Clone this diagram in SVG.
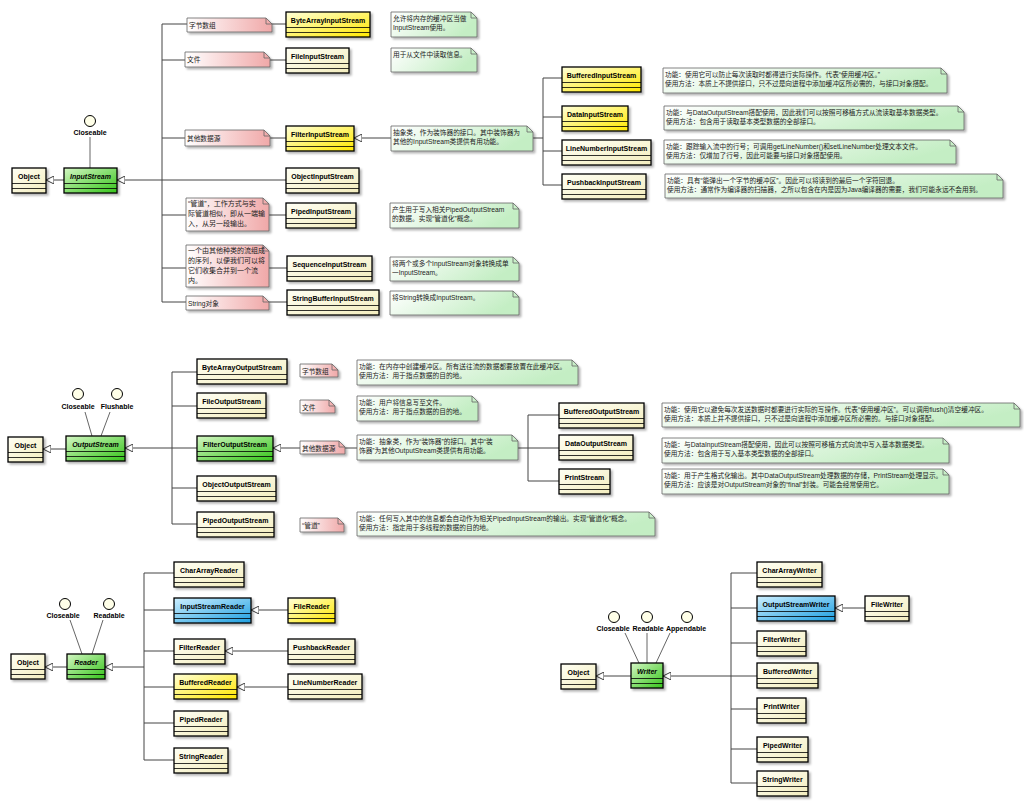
<svg xmlns="http://www.w3.org/2000/svg" width="1024" height="805" viewBox="0 0 1024 805">
<defs>
<linearGradient id="gCream" x1="0" y1="0" x2="1" y2="1"><stop offset="0" stop-color="#FFFFF4"/><stop offset="1" stop-color="#F3EDBE"/></linearGradient>
<linearGradient id="gYellow" x1="0" y1="0" x2="1" y2="1"><stop offset="0" stop-color="#FFFFD8"/><stop offset="1" stop-color="#FFE800"/></linearGradient>
<linearGradient id="gGreen" x1="0" y1="0" x2="1" y2="1"><stop offset="0" stop-color="#D4F7C4"/><stop offset="1" stop-color="#36C41A"/></linearGradient>
<linearGradient id="gBlue" x1="0" y1="0" x2="1" y2="1"><stop offset="0" stop-color="#CDEFFF"/><stop offset="1" stop-color="#1E9FE0"/></linearGradient>
<linearGradient id="gPink" x1="0" y1="0" x2="1" y2="0"><stop offset="0" stop-color="#FFFFFF"/><stop offset="1" stop-color="#F0A8A8"/></linearGradient>
<linearGradient id="gMint" x1="0" y1="0" x2="1" y2="0.3"><stop offset="0" stop-color="#FFFFFF"/><stop offset="1" stop-color="#C4EEC4"/></linearGradient>
<filter id="sh" x="-10%" y="-10%" width="130%" height="150%"><feDropShadow dx="2" dy="2" stdDeviation="0.8" flood-color="#000" flood-opacity="0.3"/></filter>
<marker id="tri" viewBox="0 0 10 10" refX="10" refY="5" markerWidth="8" markerHeight="8" markerUnits="userSpaceOnUse" orient="auto"><path d="M0,0 L10,5 L0,10 z" fill="#fff" stroke="#333" stroke-width="1.2"/></marker>
<style>
.c rect{stroke:#000;stroke-width:1.3;filter:url(#sh)}
.c path{stroke:#000;stroke-width:0.8;fill:none}
.c text{font-family:"Liberation Sans",Arial,sans-serif;font-size:7px;font-weight:bold;text-anchor:middle;fill:#000}
.c text.i{font-style:italic}
.cr{fill:url(#gCream)}.ye{fill:url(#gYellow)}.gr{fill:url(#gGreen)}.bl{fill:url(#gBlue)}
.n path.b{stroke:#666;stroke-width:0.8;filter:url(#sh)}
.n path.f{stroke:#666;stroke-width:0.8;fill:none}
.p path.b{fill:url(#gPink)}
.g path.b{fill:url(#gMint)}
.n text{font-family:"Liberation Sans","Noto Sans CJK SC",sans-serif;font-size:6.7px;fill:#222}
.p text.m{font-size:7px}
.conn path{stroke:#444;stroke-width:1;fill:none}
.conn path.a{marker-end:url(#tri)}
.conn path.if{stroke:#666}
.ifc circle{fill:#FFFFE8;stroke:#000;stroke-width:1}
.ifc text{font-family:"Liberation Sans",Arial,sans-serif;font-size:7px;font-weight:bold;text-anchor:middle;fill:#000}
</style>
</defs>
<rect width="1024" height="805" fill="#fff"/>

<g id="connectors" class="conn">
<!-- top -->
<path class="a" d="M64,180H46"/>
<path class="a" d="M162,180H117"/>
<path d="M162,24V302"/>
<path d="M162,24H286M162,60H286M162,138H286M162,180H286M162,215H286M162,268H287M162,302H287"/>
<path class="a" d="M543,138H354"/>
<path d="M543,78V185M543,78H562M543,117H562M543,151H562M543,185H562"/>
<path class="if" d="M90,137V168"/>
<!-- middle -->
<path class="a" d="M66,449H43"/>
<path class="a" d="M172,448H125"/>
<path d="M172,372V524M172,372H197M172,406H197M172,448H197M172,488H197M172,524H197"/>
<path class="a" d="M528,448H273"/>
<path d="M528,415V481M528,415H559M528,448H559M528,481H559"/>
<path class="if" d="M85,412L92,436M110,412L101,436"/>
<!-- reader -->
<path class="a" d="M67,667H45"/>
<path class="a" d="M144,667H105"/>
<path d="M144,573V760M144,573H174M144,610H174M144,651H174M144,687H174M144,723H174M144,760H174"/>
<path class="a" d="M288,610H251"/>
<path class="a" d="M288,651H225"/>
<path class="a" d="M288,687H237"/>
<path class="if" d="M70,620L82,654M103,620L92,654"/>
<!-- writer -->
<path class="a" d="M631,676H596"/>
<path class="a" d="M731,676H663"/>
<path d="M731,573V783M731,573H757M731,608H757M731,643H757M731,676H757M731,709H757M731,749H757M731,783H757"/>
<path class="a" d="M865,608H835"/>
<path class="if" d="M625,633L639,663M647,633L647,663M670,633L656,663"/>
</g>

<!-- interfaces -->
<g id="if-Closeable-in" class="ifc"><circle cx="90" cy="121" r="5.5"/><text x="90" y="135">Closeable</text></g>
<g id="if-Closeable-out" class="ifc"><circle cx="78" cy="394" r="5.5"/><text x="78" y="409">Closeable</text></g>
<g id="if-Flushable-out" class="ifc"><circle cx="117" cy="394" r="5.5"/><text x="117" y="409">Flushable</text></g>
<g id="if-Closeable-reader" class="ifc"><circle cx="65" cy="604" r="5.5"/><text x="63" y="618">Closeable</text></g>
<g id="if-Readable-reader" class="ifc"><circle cx="109" cy="604" r="5.5"/><text x="109" y="618">Readable</text></g>
<g id="if-Closeable-writer" class="ifc"><circle cx="614" cy="617" r="5.5"/><text x="613" y="631">Closeable</text></g>
<g id="if-Readable-writer" class="ifc"><circle cx="647" cy="617" r="5.5"/><text x="648" y="631">Readable</text></g>
<g id="if-Appendable-writer" class="ifc"><circle cx="687" cy="617" r="5.5"/><text x="686" y="631">Appendable</text></g>

<!-- top classes -->
<g id="Object-1" class="c"><rect class="cr" x="12" y="168" width="34" height="25"/><path d="M12,183.5h34M12,188.5h34"/><text x="29" y="179">Object</text></g>
<g id="InputStream" class="c"><rect class="gr" x="64" y="168" width="53" height="25"/><path d="M64,183.5h53M64,188.5h53"/><text class="i" x="90.5" y="179">InputStream</text></g>
<g id="ByteArrayInputStream" class="c"><rect class="ye" x="286" y="12" width="84" height="25"/><path d="M286,27.5h84M286,32.5h84"/><text x="328" y="23">ByteArrayInputStream</text></g>
<g id="FileInputStream" class="c"><rect class="cr" x="286" y="48" width="63" height="25"/><path d="M286,63.5h63M286,68.5h63"/><text x="317.5" y="59">FileInputStream</text></g>
<g id="FilterInputStream" class="c"><rect class="ye" x="286" y="126" width="68" height="25"/><path d="M286,141.5h68M286,146.5h68"/><text x="320" y="137">FilterInputStream</text></g>
<g id="ObjectInputStream" class="c"><rect class="cr" x="286" y="168" width="73" height="25"/><path d="M286,183.5h73M286,188.5h73"/><text x="322.5" y="179">ObjectInputStream</text></g>
<g id="PipedInputStream" class="c"><rect class="cr" x="286" y="203" width="70" height="25"/><path d="M286,218.5h70M286,223.5h70"/><text x="321" y="214">PipedInputStream</text></g>
<g id="SequenceInputStream" class="c"><rect class="cr" x="287" y="256" width="85" height="25"/><path d="M287,271.5h85M287,276.5h85"/><text x="329.5" y="267">SequenceInputStream</text></g>
<g id="StringBufferInputStream" class="c"><rect class="cr" x="287" y="290" width="92" height="25"/><path d="M287,305.5h92M287,310.5h92"/><text x="333" y="301">StringBufferInputStream</text></g>
<g id="BufferedInputStream" class="c"><rect class="ye" x="562" y="67" width="79" height="25"/><path d="M562,82.5h79M562,87.5h79"/><text x="601.5" y="78">BufferedInputStream</text></g>
<g id="DataInputStream" class="c"><rect class="ye" x="562" y="106" width="66" height="25"/><path d="M562,121.5h66M562,126.5h66"/><text x="595" y="117">DataInputStream</text></g>
<g id="LineNumberInputStream" class="c"><rect class="cr" x="562" y="140" width="89" height="25"/><path d="M562,155.5h89M562,160.5h89"/><text x="606.5" y="151">LineNumberInputStream</text></g>
<g id="PushbackInputStream" class="c"><rect class="cr" x="562" y="174" width="84" height="25"/><path d="M562,189.5h84M562,194.5h84"/><text x="604" y="185">PushbackInputStream</text></g>

<!-- top notes -->
<g id="note-in-bytes" class="n p"><path class="b" d="M187,18h79l6,6v8h-85z"/><path class="f" d="M266,18v6h6"/><text x="189" y="28">字节数组</text></g>
<g id="note-in-file" class="n p"><path class="b" d="M185,52h79l6,6v9h-85z"/><path class="f" d="M264,52v6h6"/><text x="187" y="62">文件</text></g>
<g id="note-in-other" class="n p"><path class="b" d="M185,130h79l6,6v10h-85z"/><path class="f" d="M264,130v6h6"/><text x="187" y="141">其他数据源</text></g>
<g id="note-in-pipe" class="n p"><path class="b" d="M186,198h77l6,6v27h-83z"/><path class="f" d="M263,198v6h6"/><text class="m" x="188" y="206">“管道”，工作方式与实</text><text class="m" x="188" y="216">际管道相似，即从一端输</text><text class="m" x="188" y="226">入，从另一段输出。</text></g>
<g id="note-in-seq" class="n p"><path class="b" d="M186,245h77l6,6v36h-83z"/><path class="f" d="M263,245v6h6"/><text class="m" x="188" y="253">一个由其他种类的流组成</text><text class="m" x="188" y="263">的序列，以便我们可以将</text><text class="m" x="188" y="273">它们收集合并到一个流</text><text class="m" x="188" y="283">内。</text></g>
<g id="note-in-string" class="n p"><path class="b" d="M186,296h77l6,6v8h-83z"/><path class="f" d="M263,296v6h6"/><text x="188" y="306">String对象</text></g>

<g id="desc-ByteArrayInputStream" class="n g"><path class="b" d="M391,12h80l6,6v19h-86z"/><path class="f" d="M471,12v6h6"/><text x="393" y="20.5">允许将内存的缓冲区当做</text><text x="393" y="30">InputStream使用。</text></g>
<g id="desc-FileInputStream" class="n g"><path class="b" d="M391,48h80l6,6v18h-86z"/><path class="f" d="M471,48v6h6"/><text x="393" y="57">用于从文件中读取信息。</text></g>
<g id="desc-FilterInputStream" class="n g"><path class="b" d="M391,126h136l6,6v19h-142z"/><path class="f" d="M527,126v6h6"/><text x="393" y="134.5">抽象类，作为装饰器的接口。其中装饰器为</text><text x="393" y="144">其他的InputStream类提供有用功能。</text></g>
<g id="desc-PipedInputStream" class="n g"><path class="b" d="M390,203h123l6,6v19h-129z"/><path class="f" d="M513,203v6h6"/><text x="392" y="211.5">产生用于写入相关PipedOutputStream</text><text x="392" y="221">的数据。实现“管道化”概念。</text></g>
<g id="desc-SequenceInputStream" class="n g"><path class="b" d="M390,257h123l6,6v18h-129z"/><path class="f" d="M513,257v6h6"/><text x="392" y="265.5">将两个或多个InputStream对象转换成单</text><text x="392" y="275">一InputStream。</text></g>
<g id="desc-StringBufferInputStream" class="n g"><path class="b" d="M390,291h123l6,6v18h-129z"/><path class="f" d="M513,291v6h6"/><text x="392" y="299.5">将String转换成InputStream。</text></g>
<g id="desc-BufferedInputStream" class="n g"><path class="b" d="M663,68h278l6,6v19h-284z"/><path class="f" d="M941,68v6h6"/><text x="665" y="76.5">功能：使用它可以防止每次读取时都得进行实际操作。代表“使用缓冲区。”</text><text x="665" y="86">使用方法：本质上不提供接口，只不过是向进程中添加缓冲区所必需的，与接口对象搭配。</text></g>
<g id="desc-DataInputStream" class="n g"><path class="b" d="M664,106h294l6,6v18h-300z"/><path class="f" d="M958,106v6h6"/><text x="666" y="114.5">功能：与DataOutputStream搭配使用，因此我们可以按照可移植方式从流读取基本数据类型。</text><text x="666" y="124">使用方法：包含用于读取基本类型数据的全部接口。</text></g>
<g id="desc-LineNumberInputStream" class="n g"><path class="b" d="M664,140h286l6,6v18h-292z"/><path class="f" d="M950,140v6h6"/><text x="666" y="148.5">功能：跟踪输入流中的行号；可调用getLineNumber()和setLineNumber处理文本文件。</text><text x="666" y="158">使用方法：仅增加了行号，因此可能要与接口对象搭配使用。</text></g>
<g id="desc-PushbackInputStream" class="n g"><path class="b" d="M665,174h332l6,6v18h-338z"/><path class="f" d="M997,174v6h6"/><text x="667" y="182.5">功能：具有“能弹出一个字节的缓冲区”。因此可以将读到的最后一个字符回退。</text><text x="667" y="192">使用方法：通常作为编译器的扫描器，之所以包含在内是因为Java编译器的需要，我们可能永远不会用到。</text></g>

<!-- middle classes -->
<g id="Object-2" class="c"><rect class="cr" x="8" y="437" width="35" height="25"/><path d="M8,452.5h35M8,457.5h35"/><text x="25.5" y="448">Object</text></g>
<g id="OutputStream" class="c"><rect class="gr" x="66" y="436" width="59" height="25"/><path d="M66,451.5h59M66,456.5h59"/><text class="i" x="95.5" y="447">OutputStream</text></g>
<g id="ByteArrayOutputStream" class="c"><rect class="cr" x="197" y="359" width="90" height="25"/><path d="M197,374.5h90M197,379.5h90"/><text x="242" y="370">ByteArrayOutputStream</text></g>
<g id="FileOutputStream" class="c"><rect class="cr" x="197" y="393" width="69" height="25"/><path d="M197,408.5h69M197,413.5h69"/><text x="231.5" y="404">FileOutputStream</text></g>
<g id="FilterOutputStream" class="c"><rect class="gr" x="197" y="436" width="76" height="25"/><path d="M197,451.5h76M197,456.5h76"/><text x="235" y="447">FilterOutputStream</text></g>
<g id="ObjectOutputStream" class="c"><rect class="cr" x="197" y="476" width="79" height="25"/><path d="M197,491.5h79M197,496.5h79"/><text x="236.5" y="487">ObjectOutputStream</text></g>
<g id="PipedOutputStream" class="c"><rect class="cr" x="197" y="512" width="77" height="25"/><path d="M197,527.5h77M197,532.5h77"/><text x="235.5" y="523">PipedOutputStream</text></g>
<g id="BufferedOutputStream" class="c"><rect class="cr" x="559" y="403" width="85" height="25"/><path d="M559,418.5h85M559,423.5h85"/><text x="601.5" y="414">BufferedOutputStream</text></g>
<g id="DataOutputStream" class="c"><rect class="cr" x="559" y="435" width="74" height="25"/><path d="M559,450.5h74M559,455.5h74"/><text x="596" y="446">DataOutputStream</text></g>
<g id="PrintStream" class="c"><rect class="cr" x="559" y="469" width="51" height="25"/><path d="M559,484.5h51M559,489.5h51"/><text x="584.5" y="480">PrintStream</text></g>

<!-- middle notes -->
<g id="note-out-bytes" class="n p"><path class="b" d="M300,364h32l6,6v7h-38z"/><path class="f" d="M332,364v6h6"/><text x="302" y="373.5">字节数组</text></g>
<g id="note-out-file" class="n p"><path class="b" d="M300,400h29l6,6v7h-35z"/><path class="f" d="M329,400v6h6"/><text x="302" y="409.5">文件</text></g>
<g id="note-out-other" class="n p"><path class="b" d="M300,441h39l6,6v7h-45z"/><path class="f" d="M339,441v6h6"/><text x="302" y="450.5">其他数据源</text></g>
<g id="note-out-pipe" class="n p"><path class="b" d="M300,518h38l6,6v8h-44z"/><path class="f" d="M338,518v6h6"/><text x="302" y="528">“管道”</text></g>

<g id="desc-ByteArrayOutputStream" class="n g"><path class="b" d="M357,360h215l6,6v19h-221z"/><path class="f" d="M572,360v6h6"/><text x="359" y="368.5">功能：在内存中创建缓冲区。所有送往流的数据都要放置在此缓冲区。</text><text x="359" y="378">使用方法：用于指点数据的目的地。</text></g>
<g id="desc-FileOutputStream" class="n g"><path class="b" d="M357,396h115l6,6v19h-121z"/><path class="f" d="M472,396v6h6"/><text x="359" y="404.5">功能：用户将信息写至文件。</text><text x="359" y="414">使用方法：用于指点数据的目的地。</text></g>
<g id="desc-FilterOutputStream" class="n g"><path class="b" d="M357,435h155l6,6v19h-161z"/><path class="f" d="M512,435v6h6"/><text x="359" y="443.5">功能：抽象类，作为“装饰器”的接口。其中“装</text><text x="359" y="453">饰器”为其他OutputStream类提供有用功能。</text></g>
<g id="desc-PipedOutputStream" class="n g"><path class="b" d="M357,512h292l6,6v18h-298z"/><path class="f" d="M649,512v6h6"/><text x="359" y="520.5">功能：任何写入其中的信息都会自动作为相关PipedInputStream的输出。实现“管道化”概念。</text><text x="359" y="530">使用方法：指定用于多线程的数据的目的地。</text></g>
<g id="desc-BufferedOutputStream" class="n g"><path class="b" d="M662,403h352l6,6v18h-358z"/><path class="f" d="M1014,403v6h6"/><text x="664" y="411.5">功能：使用它以避免每次发送数据时都要进行实际的写操作。代表“使用缓冲区”。可以调用flush()清空缓冲区。</text><text x="664" y="421">使用方法：本质上并不提供接口，只不过是向进程中添加缓冲区所必需的。与接口对象搭配。</text></g>
<g id="desc-DataOutputStream" class="n g"><path class="b" d="M662,438h281l6,6v19h-287z"/><path class="f" d="M943,438v6h6"/><text x="664" y="446.5">功能：与DataInputStream搭配使用，因此可以按照可移植方式向流中写入基本数据类型。</text><text x="664" y="456">使用方法：包含用于写入基本类型数据的全部接口。</text></g>
<g id="desc-PrintStream" class="n g"><path class="b" d="M662,469h281l6,6v19h-287z"/><path class="f" d="M943,469v6h6"/><text x="664" y="477.5">功能：用于产生格式化输出。其中DataOutputStream处理数据的存储，PrintStream处理显示。</text><text x="664" y="487">使用方法：应该是对OutputStream对象的“final”封装。可能会经常使用它。</text></g>

<!-- reader classes -->
<g id="Object-3" class="c"><rect class="cr" x="11" y="654" width="34" height="25"/><path d="M11,669.5h34M11,674.5h34"/><text x="28" y="665">Object</text></g>
<g id="Reader" class="c"><rect class="gr" x="67" y="654" width="38" height="25"/><path d="M67,669.5h38M67,674.5h38"/><text class="i" x="86" y="665">Reader</text></g>
<g id="CharArrayReader" class="c"><rect class="cr" x="174" y="562" width="70" height="25"/><path d="M174,577.5h70M174,582.5h70"/><text x="209" y="573">CharArrayReader</text></g>
<g id="InputStreamReader" class="c"><rect class="bl" x="174" y="598" width="77" height="25"/><path d="M174,613.5h77M174,618.5h77"/><text x="212.5" y="609">InputStreamReader</text></g>
<g id="FilterReader" class="c"><rect class="cr" x="174" y="639" width="51" height="25"/><path d="M174,654.5h51M174,659.5h51"/><text x="199.5" y="650">FilterReader</text></g>
<g id="BufferedReader" class="c"><rect class="ye" x="174" y="674" width="63" height="25"/><path d="M174,689.5h63M174,694.5h63"/><text x="205.5" y="685">BufferedReader</text></g>
<g id="PipedReader" class="c"><rect class="cr" x="174" y="711" width="54" height="25"/><path d="M174,726.5h54M174,731.5h54"/><text x="201" y="722">PipedReader</text></g>
<g id="StringReader" class="c"><rect class="cr" x="174" y="748" width="54" height="25"/><path d="M174,763.5h54M174,768.5h54"/><text x="201" y="759">StringReader</text></g>
<g id="FileReader" class="c"><rect class="ye" x="288" y="598" width="47" height="25"/><path d="M288,613.5h47M288,618.5h47"/><text x="311.5" y="609">FileReader</text></g>
<g id="PushbackReader" class="c"><rect class="cr" x="288" y="639" width="67" height="25"/><path d="M288,654.5h67M288,659.5h67"/><text x="321.5" y="650">PushbackReader</text></g>
<g id="LineNumberReader" class="c"><rect class="cr" x="288" y="674" width="74" height="25"/><path d="M288,689.5h74M288,694.5h74"/><text x="325" y="685">LineNumberReader</text></g>

<!-- writer classes -->
<g id="Object-4" class="c"><rect class="cr" x="561" y="664" width="35" height="25"/><path d="M561,679.5h35M561,684.5h35"/><text x="578.5" y="675">Object</text></g>
<g id="Writer" class="c"><rect class="gr" x="631" y="663" width="32" height="25"/><path d="M631,678.5h32M631,683.5h32"/><text class="i" x="647" y="674">Writer</text></g>
<g id="CharArrayWriter" class="c"><rect class="cr" x="757" y="562" width="65" height="25"/><path d="M757,577.5h65M757,582.5h65"/><text x="789.5" y="573">CharArrayWriter</text></g>
<g id="OutputStreamWriter" class="c"><rect class="bl" x="757" y="596" width="78" height="25"/><path d="M757,611.5h78M757,616.5h78"/><text x="796" y="607">OutputStreamWriter</text></g>
<g id="FilterWriter" class="c"><rect class="cr" x="757" y="631" width="49" height="25"/><path d="M757,646.5h49M757,651.5h49"/><text x="781.5" y="642">FilterWriter</text></g>
<g id="BufferedWriter" class="c"><rect class="cr" x="757" y="663" width="61" height="25"/><path d="M757,678.5h61M757,683.5h61"/><text x="787.5" y="674">BufferedWriter</text></g>
<g id="PrintWriter" class="c"><rect class="cr" x="757" y="698" width="49" height="25"/><path d="M757,713.5h49M757,718.5h49"/><text x="781.5" y="709">PrintWriter</text></g>
<g id="PipedWriter" class="c"><rect class="cr" x="757" y="737" width="51" height="25"/><path d="M757,752.5h51M757,757.5h51"/><text x="782.5" y="748">PipedWriter</text></g>
<g id="StringWriter" class="c"><rect class="cr" x="757" y="771" width="51" height="25"/><path d="M757,786.5h51M757,791.5h51"/><text x="782.5" y="782">StringWriter</text></g>
<g id="FileWriter" class="c"><rect class="cr" x="865" y="596" width="44" height="25"/><path d="M865,611.5h44M865,616.5h44"/><text x="887" y="607">FileWriter</text></g>
</svg>
